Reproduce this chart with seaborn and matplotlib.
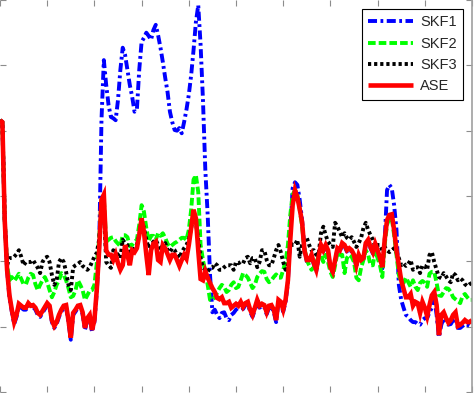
import numpy as np
import pandas as pd
import matplotlib
matplotlib.use("Agg")
import matplotlib.pyplot as plt
import seaborn as sns

# sample positions (arbitrary time units, 0..10)
t = [round(0.05 * i, 2) for i in range(201)]

skf1 = [4.16, 4.13, 2.63, 1.87, 1.45, 1.23, 1.04, 1.15, 1.32, 1.29,
        1.26, 1.26, 1.33, 1.29, 1.30, 1.26, 1.18, 1.15, 1.21, 1.27,
        1.33, 1.29, 1.07, 0.98, 1.04, 1.15, 1.23, 1.29, 1.30, 1.07,
        0.80, 1.18, 1.23, 1.29, 1.30, 1.19, 0.95, 1.10, 1.15, 0.92,
        1.07, 1.53, 2.17, 4.16, 5.08, 4.70, 4.39, 4.21, 4.19, 4.16,
        4.47, 4.93, 5.27, 5.16, 4.93, 4.70, 4.52, 4.29, 4.32, 4.93,
        5.36, 5.42, 5.50, 5.45, 5.39, 5.54, 5.62, 5.46, 5.27, 5.05,
        4.81, 4.59, 4.29, 4.13, 4.01, 4.00, 4.04, 3.96, 4.13, 4.32,
        4.55, 4.85, 5.23, 5.66, 5.92, 5.31, 4.47, 3.40, 2.71, 1.79,
        1.22, 1.26, 1.18, 1.13, 1.21, 1.22, 1.13, 1.10, 1.18, 1.21,
        1.26, 1.29, 1.35, 1.27, 1.33, 1.35, 1.23, 1.15, 1.26, 1.38,
        1.29, 1.32, 1.30, 1.19, 1.29, 1.30, 1.23, 1.07, 1.38, 1.35,
        1.23, 1.38, 1.68, 2.48, 3.12, 3.21, 3.17, 2.94, 2.63, 2.20,
        2.00, 2.00, 2.08, 1.95, 1.85, 2.05, 2.23, 2.15, 2.23, 2.15,
        1.89, 1.82, 2.00, 2.18, 2.15, 2.26, 2.23, 2.15, 2.18, 2.15,
        2.08, 1.92, 2.08, 2.00, 2.03, 2.26, 2.31, 2.20, 2.12, 2.25,
        2.15, 2.03, 1.89, 2.31, 3.09, 3.17, 3.12, 2.86, 2.48, 1.64,
        1.41, 1.29, 1.18, 1.15, 1.10, 1.07, 1.07, 1.04, 1.03, 1.10,
        1.13, 1.13, 1.22, 1.29, 1.45, 1.18, 0.84, 1.03, 1.13, 1.07,
        1.03, 1.04, 1.10, 1.13, 0.98, 0.98, 1.01, 1.04, 1.03, 1.01,
        1.06]

skf2 = [4.16, 4.13, 2.63, 1.94, 1.71, 1.76, 1.70, 1.75, 1.81, 1.73,
        1.65, 1.65, 1.75, 1.81, 1.79, 1.65, 1.56, 1.64, 1.71, 1.76,
        1.68, 1.56, 1.45, 1.53, 1.64, 1.71, 1.82, 1.79, 1.71, 1.59,
        1.45, 1.47, 1.56, 1.71, 1.64, 1.56, 1.41, 1.48, 1.55, 1.56,
        1.64, 1.97, 2.33, 2.94, 2.97, 2.30, 2.33, 2.36, 2.37, 2.31,
        2.27, 2.23, 2.40, 2.40, 2.37, 2.23, 2.25, 2.30, 2.33, 2.56,
        2.86, 2.76, 2.51, 2.31, 2.39, 2.39, 2.33, 2.43, 2.39, 2.43,
        2.36, 2.27, 2.22, 2.25, 2.28, 2.30, 2.33, 2.36, 2.36, 2.33,
        2.48, 2.79, 3.25, 3.32, 3.06, 2.25, 2.02, 1.84, 1.64, 1.41,
        1.41, 1.45, 1.52, 1.59, 1.64, 1.61, 1.53, 1.56, 1.64, 1.68,
        1.59, 1.61, 1.71, 1.82, 1.79, 1.75, 1.67, 1.59, 1.64, 1.76,
        1.81, 1.85, 1.84, 1.73, 1.68, 1.71, 1.76, 1.80, 1.75, 1.75,
        1.87, 1.99, 2.25, 2.71, 3.02, 3.09, 3.02, 2.79, 2.53, 2.20,
        2.02, 1.94, 1.87, 1.91, 1.99, 2.07, 2.10, 1.99, 2.10, 1.99,
        1.84, 1.76, 1.94, 2.14, 2.10, 2.10, 1.82, 2.05, 2.10, 2.07,
        1.99, 1.75, 1.71, 1.90, 2.02, 2.17, 2.10, 1.94, 1.94, 2.17,
        2.05, 1.94, 1.76, 2.25, 2.56, 2.66, 2.66, 2.40, 2.10, 1.79,
        1.68, 1.67, 1.75, 1.68, 1.61, 1.71, 1.61, 1.56, 1.67, 1.70,
        1.67, 1.61, 1.81, 1.84, 1.84, 1.67, 1.48, 1.47, 1.53, 1.59,
        1.58, 1.53, 1.45, 1.42, 1.39, 1.36, 1.47, 1.50, 1.45, 1.41,
        1.41]

skf3 = [4.16, 4.13, 2.63, 1.94, 2.05, 2.05, 2.07, 2.11, 2.17, 2.07,
        1.94, 1.99, 1.99, 1.99, 2.02, 1.96, 1.90, 1.82, 1.99, 2.05,
        2.07, 1.99, 1.79, 1.64, 1.71, 1.99, 2.05, 1.99, 1.84, 1.64,
        1.56, 1.91, 1.94, 1.96, 1.99, 1.93, 1.90, 1.87, 1.91, 1.99,
        2.07, 2.13, 2.33, 2.71, 2.79, 1.99, 1.94, 1.90, 2.17, 2.14,
        2.10, 2.05, 2.33, 2.28, 2.25, 2.14, 2.17, 2.20, 2.25, 2.40,
        2.63, 2.51, 2.33, 2.20, 2.25, 2.30, 2.33, 2.25, 2.17, 2.25,
        2.28, 2.17, 2.14, 2.20, 2.17, 2.10, 2.05, 2.14, 2.20, 2.25,
        2.33, 2.51, 2.71, 2.60, 2.33, 2.05, 1.90, 1.87, 1.84, 1.90,
        1.90, 1.97, 1.94, 1.87, 1.87, 1.91, 1.94, 1.94, 1.94, 1.87,
        1.99, 1.97, 1.99, 1.97, 2.05, 2.07, 1.97, 2.05, 2.05, 1.91,
        1.99, 2.17, 2.17, 2.02, 1.94, 1.94, 2.05, 2.17, 2.25, 2.14,
        1.99, 1.87, 1.94, 2.28, 2.25, 2.25, 2.33, 2.07, 2.25, 2.33,
        2.36, 2.25, 2.17, 2.17, 2.10, 2.10, 2.43, 2.53, 2.40, 2.30,
        2.25, 2.22, 2.59, 2.53, 2.45, 2.37, 2.43, 2.36, 2.33, 2.37,
        2.30, 2.22, 2.28, 2.36, 2.51, 2.59, 2.48, 2.40, 2.33, 2.22,
        2.25, 2.25, 2.17, 2.22, 2.17, 2.14, 2.17, 2.20, 2.14, 2.05,
        1.94, 1.97, 1.93, 1.96, 2.02, 1.87, 1.90, 1.91, 1.82, 1.94,
        1.93, 1.87, 2.10, 2.14, 1.99, 1.87, 1.76, 1.74, 1.82, 1.77,
        1.71, 1.68, 1.82, 1.79, 1.71, 1.74, 1.71, 1.65, 1.62, 1.65,
        1.67]

ase = [4.16, 4.13, 2.63, 1.87, 1.48, 1.26, 1.07, 1.18, 1.35, 1.32,
       1.29, 1.29, 1.36, 1.32, 1.33, 1.29, 1.21, 1.18, 1.24, 1.30,
       1.36, 1.32, 1.10, 1.01, 1.07, 1.18, 1.26, 1.32, 1.33, 1.10,
       0.83, 1.21, 1.26, 1.32, 1.33, 1.22, 0.98, 1.13, 1.18, 0.95,
       1.10, 1.56, 2.17, 2.94, 3.02, 2.17, 2.10, 2.10, 2.02, 2.11,
       1.97, 1.87, 1.94, 2.25, 2.10, 1.94, 2.17, 2.14, 2.20, 2.40,
       2.66, 2.45, 2.10, 1.79, 2.17, 2.27, 2.30, 2.02, 1.99, 2.25,
       2.20, 2.11, 2.02, 2.10, 2.10, 2.02, 1.93, 2.02, 2.10, 2.04,
       2.25, 2.51, 2.79, 2.66, 2.17, 1.73, 1.71, 1.85, 1.75, 1.67,
       1.59, 1.53, 1.44, 1.42, 1.45, 1.36, 1.36, 1.38, 1.29, 1.32,
       1.35, 1.32, 1.38, 1.30, 1.36, 1.38, 1.26, 1.18, 1.29, 1.41,
       1.32, 1.35, 1.33, 1.22, 1.32, 1.33, 1.26, 1.10, 1.41, 1.38,
       1.26, 1.41, 1.71, 2.33, 2.86, 3.09, 2.98, 2.80, 2.60, 2.17,
       2.02, 2.02, 2.10, 1.97, 1.87, 2.07, 2.25, 2.17, 2.25, 2.17,
       1.91, 1.84, 2.02, 2.20, 2.17, 2.28, 2.25, 2.17, 2.20, 2.17,
       2.10, 1.94, 2.10, 2.02, 2.05, 2.28, 2.33, 2.22, 2.14, 2.27,
       2.17, 2.05, 1.91, 2.33, 2.63, 2.71, 2.72, 2.48, 2.17, 1.94,
       1.71, 1.58, 1.45, 1.45, 1.50, 1.32, 1.38, 1.36, 1.21, 1.38,
       1.29, 1.16, 1.33, 1.48, 1.53, 1.33, 0.87, 1.18, 1.22, 1.13,
       1.06, 1.10, 1.18, 1.22, 1.01, 1.03, 1.06, 1.10, 1.07, 1.07,
       1.10]

labels = ["SKF1", "SKF2", "SKF3", "ASE"]

for s in (skf1, skf2, skf3, ase):
    assert len(s) == len(t), len(s)

sns.set_style("white")
plt.rcParams["font.family"] = ["Liberation Sans", "DejaVu Sans"]
plt.rcParams["lines.scale_dashes"] = False

fig = plt.figure(figsize=(4.74, 3.93), dpi=100)
ax = fig.add_axes([0.0, 1 / 393, 472 / 474, 392 / 393])

styles = [
    dict(color="#0000ff", linestyle=(0, (6.5, 2.5, 2.0, 2.5)), lw=2.8),
    dict(color="#00ff00", linestyle=(0, (5.5, 2.2)), lw=2.8),
    dict(color="#000000", linestyle=(0, (2.3, 2.1)), lw=2.8),
    dict(color="#ff0000", linestyle="-", lw=3.3),
]
for series, lab, st in zip([skf1, skf2, skf3, ase], labels, styles):
    sns.lineplot(x=t, y=series, ax=ax, label=lab, color=st["color"],
                 linestyle=st["linestyle"], lw=st["lw"],
                 solid_capstyle="butt", dash_capstyle="butt",
                 solid_joinstyle="miter")

ax.set_xlim(0, 10)
ax.set_ylim(0, 6)
ax.set_xticks(np.arange(0, 11, 1))
ax.set_yticks(np.arange(0, 7, 1))
ax.tick_params(direction="in", length=4.5, width=0.8, color="#8c8c8c",
               top=True, right=True, bottom=True, left=True,
               labelbottom=False, labelleft=False)
for side in ["left", "top", "bottom"]:
    ax.spines[side].set_visible(False)
ax.spines["right"].set_color("#a0a0a0")
ax.spines["right"].set_linewidth(1.2)
ax.set_xlabel("")
ax.set_ylabel("")

leg = ax.legend(loc="upper right", bbox_to_anchor=(1.0, 1.0), fontsize=10.5,
                frameon=True, fancybox=False, framealpha=1, edgecolor="black",
                handlelength=3.1, handletextpad=0.45, borderpad=0.45,
                labelspacing=0.5, borderaxespad=0.6)
leg.get_frame().set_linewidth(0.8)

fig.savefig("out.png", dpi=100)
